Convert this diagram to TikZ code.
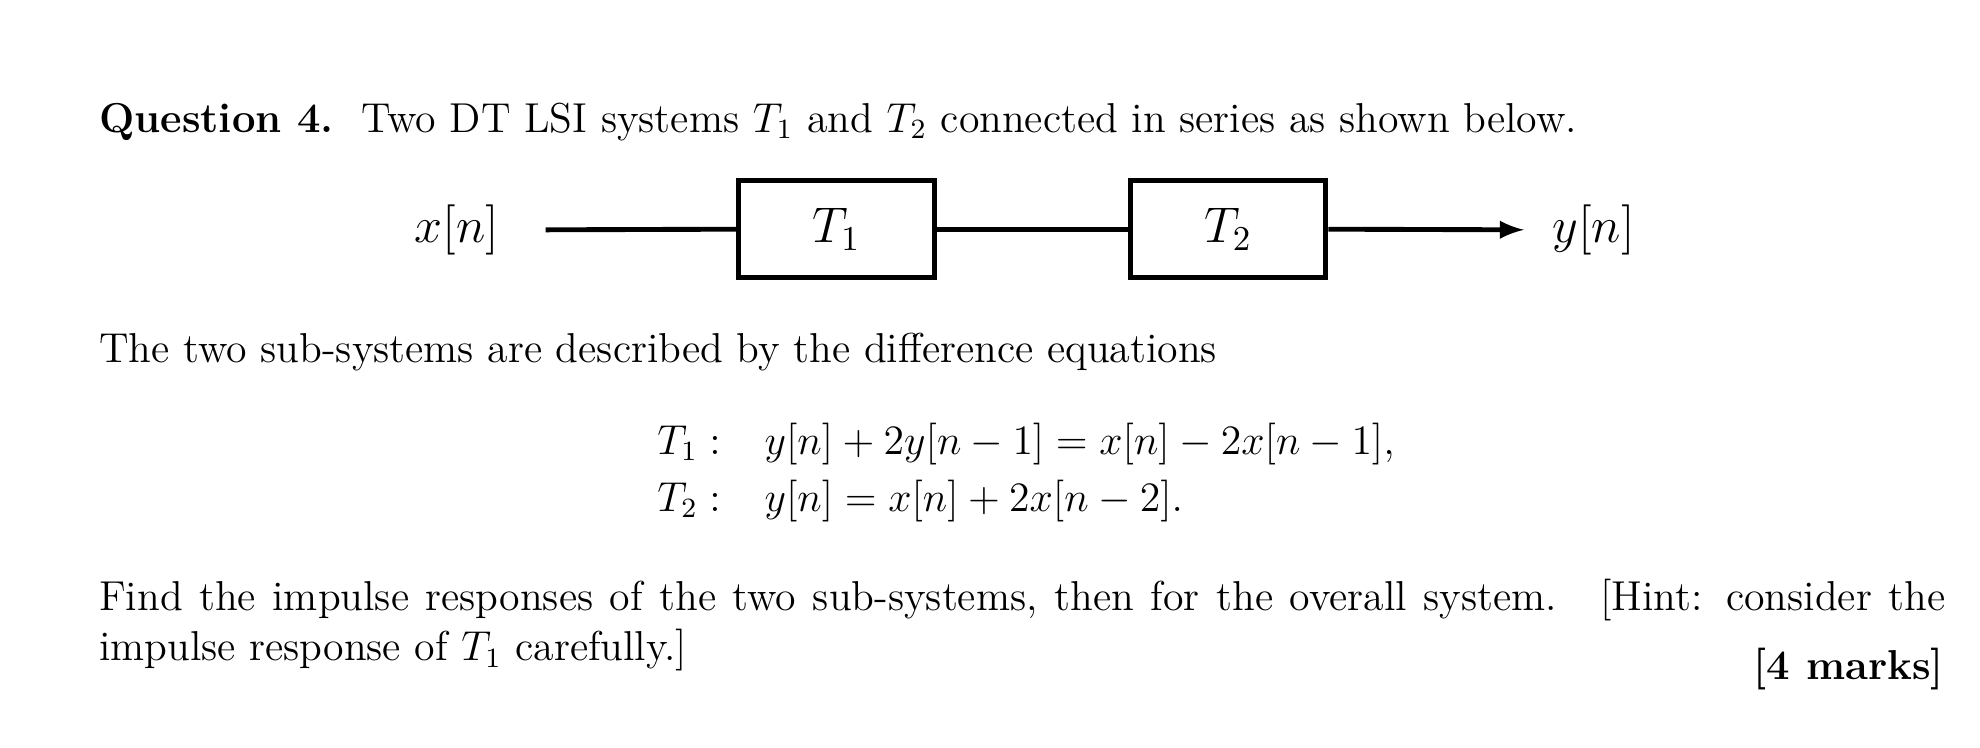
\documentclass[tikz,border=0pt]{standalone}
\usepackage{amsmath}
\begin{document}
\begin{tikzpicture}[x=0.3625pt,y=-0.3625pt,
  blk/.style={draw,line width=1.4pt,minimum width=155*0.3625pt,minimum height=77*0.3625pt,inner sep=0pt},
  ln/.style={line width=1.4pt},
  txt/.style={inner sep=0pt,font=\fontsize{12}{14.5}\selectfont}]
\useasboundingbox (0,0) rectangle (1568,592);
\node[txt,anchor=base west] (q) at (78,105) {\textbf{Question 4.}\ \ Two DT LSI systems $T_1$ and $T_2$ connected in series as shown below.};
\node[txt,font=\Large] (x) at (362,182) {$x[n]$};
\coordinate (xs) at (432,182);
\node[blk,font=\Large] (t1) at (662.5,181.5) {$T_1$};
\node[blk,font=\Large] (t2) at (972.5,181.5) {$T_2$};
\coordinate (ye) at (1207,182);
\node[txt,font=\Large] (y) at (1262,182) {$y[n]$};
\draw[ln] (xs) -- (t1.west);
\draw[ln] (t1.east) -- (t2.west);
\draw[ln,-latex] (t2.east) -- (ye);
\node[txt,anchor=base west] (d) at (78,287) {The two sub-systems are described by the difference equations};
\node[txt,anchor=base west] (e1l) at (520,360) {$T_1:$};
\node[txt,anchor=base west] (e1) at (605,360) {$y[n]+2y[n-1]=x[n]-2x[n-1],$};
\node[txt,anchor=base west] (e2l) at (520,405) {$T_2:$};
\node[txt,anchor=base west] (e2) at (605,405) {$y[n]=x[n]+2x[n-2].$};
\node[txt,anchor=north west,text width=1462*0.3625pt,align=justify] (f) at (78,458) {Find the impulse responses of the two sub-systems, then for the overall system. \ [Hint: consider the impulse response of $T_1$ carefully.]};
\node[txt,anchor=base east] (m) at (1540,538) {\textbf{[4 marks]}};
\end{tikzpicture}
\end{document}
